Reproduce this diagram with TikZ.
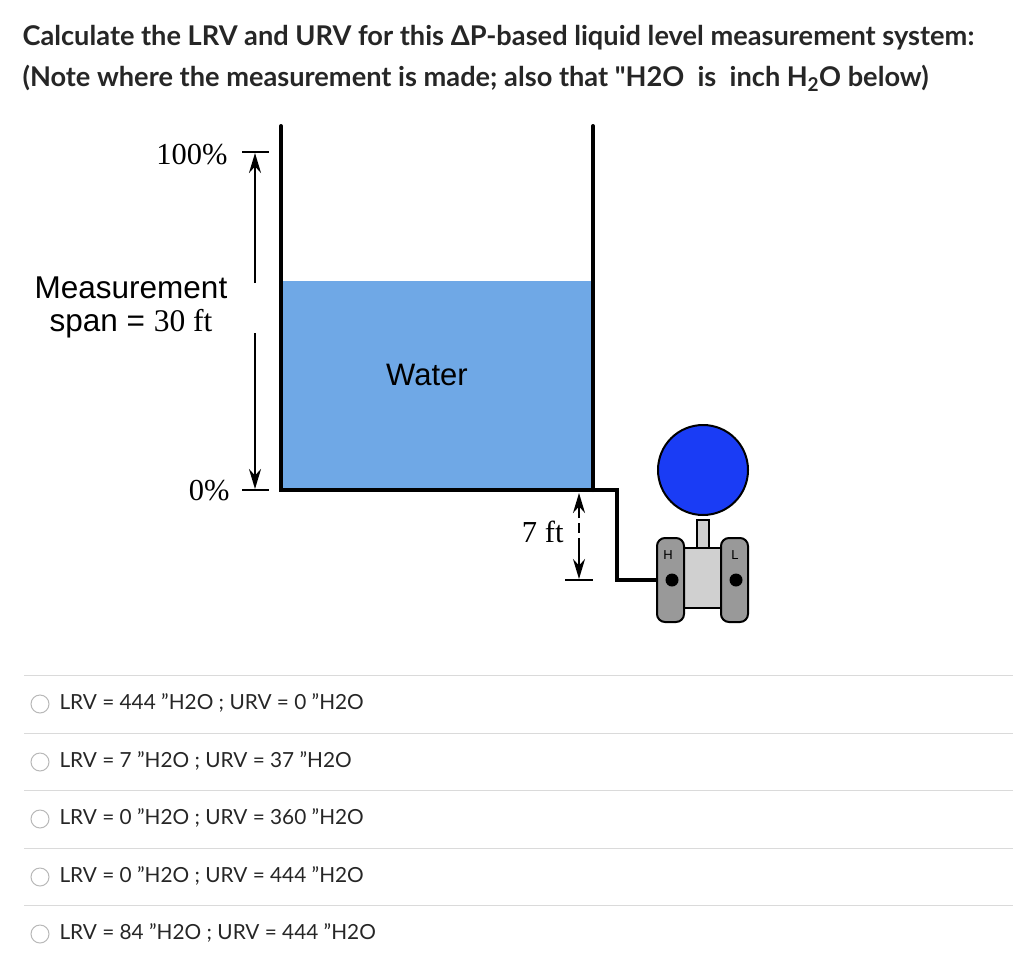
\documentclass[tikz,border=0pt]{standalone}
\usepackage{fontspec}
\setmainfont{Lato}
\newfontfamily\arialf{Liberation Sans}
\newfontfamily\timesf{Liberation Serif}
\usetikzlibrary{arrows.meta}
\definecolor{water}{HTML}{6FA8E6}
\definecolor{tblue}{HTML}{1A3CF5}
\definecolor{flange}{HTML}{999999}
\definecolor{bodyg}{HTML}{D0D0D0}
\definecolor{sep}{HTML}{DADADA}
\definecolor{radio}{HTML}{B8B8B8}
\tikzset{
  wall/.style={line width=4pt},
  dim/.style={line width=2pt,-{Stealth[length=20pt,width=12pt]}},
  tick/.style={line width=1.6pt},
  opt/.style={anchor=west,font=\fontsize{20.8}{22}\selectfont,text=black!85},
  rad/.style={circle,draw=radio,line width=1pt,minimum size=18pt,inner sep=0pt},
  serif/.style={font=\timesf\fontsize{30.5}{32}\selectfont},
  ttl/.style={anchor=west,font=\bfseries\fontsize{27.2}{29}\selectfont,text=black!85},
}
\begin{document}
\begin{tikzpicture}[x=1pt,y=-1pt]
\useasboundingbox (0,0) rectangle (1024,971);
% title
\node[ttl] (t1) at (19,38) {Calculate the LRV and URV for this ΔP-based liquid level measurement system:};
\node[ttl] (t2) at (19,78) {(Note where the measurement is made; also that \textquotedbl H2O\ \ is\ \ inch H\textsubscript{2}O below)};
% water
\fill[water] (281,281) rectangle (593,490);
\node[font=\arialf\fontsize{31}{33}\selectfont] (w) at (427,375) {Water};
% tank
\draw[wall,line cap=round] (281,126) -- (281,490) -- (617,490) -- (617,580) -- (672,580);
\draw[wall,line cap=round] (593,126) -- (593,490);
% span dimension
\draw[tick] (242,152) -- (269,152);
\draw[tick] (242,490) -- (269,490);
\draw[dim] (255,283) -- (255,153);
\draw[dim] (255,333) -- (255,489);
\node[serif,anchor=east] (p100) at (231,155) {100\%};
\node[serif,anchor=east] (p0) at (233,491) {0\%};
\node[font=\arialf\fontsize{31.5}{33}\selectfont,align=center] (span) at (131,307) {Measurement\\span = {\timesf 30 ft}};
% 7 ft dimension
\draw[tick] (565,580) -- (593,580);
\draw[dim] (579,518) -- (579,493);
\draw[line width=2pt] (579,523) -- (579,533);
\draw[dim] (579,538) -- (579,579);
\node[serif,anchor=east] (seven) at (567,532) {7 ft};
% transmitter
\draw[line width=2pt,fill=bodyg] (697,520) rectangle (709,550);
\draw[line width=2pt,fill=bodyg] (683,548) rectangle (722,608);
\draw[line width=2pt,fill=flange,rounded corners=8pt] (657,538) rectangle (684,622);
\draw[line width=2pt,fill=flange,rounded corners=8pt] (721,538) rectangle (748,622);
\draw[line width=2pt,fill=tblue] (703,470) circle (45);
\node[font=\arialf\fontsize{13}{14}\selectfont] (H) at (668,555) {H};
\node[font=\arialf\fontsize{13}{14}\selectfont] (L) at (735,555) {L};
\fill (672,580) circle (6.5);
\fill (736,580) circle (6.5);
% options
\foreach \y in {675,733,790,848,905} \draw[sep,line width=1pt] (24,\y) -- (1013,\y);
\node[rad] (r1) at (40,704) {};
\node[rad] (r2) at (40,762) {};
\node[rad] (r3) at (40,819) {};
\node[rad] (r4) at (40,877) {};
\node[rad] (r5) at (40,934) {};
\node[opt] (o1) at (56,703) {LRV = 444 ”H2O ; URV = 0 ”H2O};
\node[opt] (o2) at (56,761) {LRV = 7 ”H2O ; URV = 37 ”H2O};
\node[opt] (o3) at (56,818) {LRV = 0 ”H2O ; URV = 360 ”H2O};
\node[opt] (o4) at (56,876) {LRV = 0 ”H2O ; URV = 444 ”H2O};
\node[opt] (o5) at (56,933) {LRV = 84 ”H2O ; URV = 444 ”H2O};
\end{tikzpicture}
\end{document}
